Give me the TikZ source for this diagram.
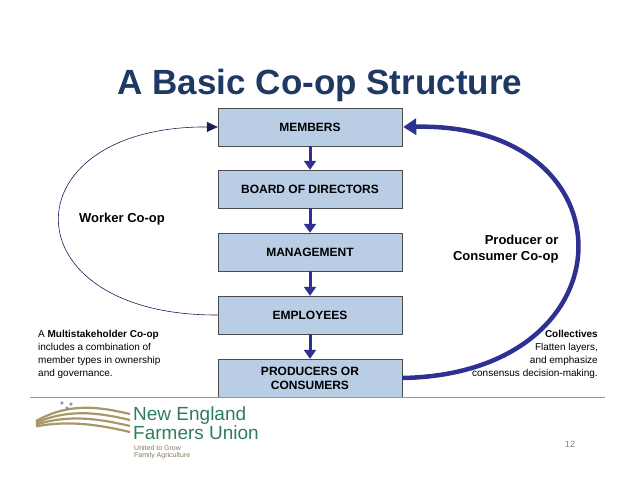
\documentclass[tikz,border=0pt]{standalone}
\usepackage{fontspec}
\setmainfont{Liberation Sans}
\newfontfamily\symfont{DejaVu Sans}
\usetikzlibrary{arrows.meta}
\definecolor{boxfill}{HTML}{B9CDE5}
\definecolor{navy}{HTML}{2E3192}
\definecolor{titleblue}{HTML}{1F3864}
\definecolor{tan}{HTML}{A8976A}
\definecolor{nefgreen}{HTML}{2E7D5B}
\begin{document}
\begin{tikzpicture}[x=1pt,y=-1pt,
  stepbox/.style={draw=black!70,fill=boxfill,minimum width=184pt,minimum height=38pt,inner sep=0pt,font=\bfseries\fontsize{12}{14}\selectfont,align=center},
  down/.style={navy,line width=3pt,-{Triangle[length=9pt,width=12pt]}},
  lbl/.style={font=\fontsize{10}{13}\selectfont,align=left}]
\useasboundingbox (0,0) rectangle (638,493);
\node[font=\bfseries\fontsize{35}{40}\selectfont,text=titleblue] (title) at (320,85) {A Basic Co-op Structure};
\node[stepbox] (mem) at (310,127) {MEMBERS};
\node[stepbox] (bod) at (310,189) {BOARD OF DIRECTORS};
\node[stepbox] (man) at (310,252) {MANAGEMENT};
\node[stepbox] (emp) at (310,315) {EMPLOYEES};
\node[stepbox] (pro) at (310,378) {PRODUCERS OR\\CONSUMERS};
\foreach \a/\b in {mem/bod,bod/man,man/emp,emp/pro} \draw[down] (\a) -- (\b);
\draw[navy!60!black,line width=0.6pt,-{Triangle[length=11pt,width=10pt]}] (emp.west) .. controls (7,316) and (7,126) .. (mem.west);
\draw[navy,line width=4.5pt,-{Triangle[length=13pt,width=16pt]}] (pro.east) .. controls (635,374) and (635,122) .. ([xshift=1pt]mem.east);
\node[font=\bfseries\fontsize{13}{15}\selectfont] (wc) at (122,219) {Worker Co-op};
\node[font=\bfseries\fontsize{13}{16}\selectfont,align=right,anchor=east] (pc) at (562,249) {Producer or\\Consumer Co-op};
\node[lbl,anchor=north west,inner sep=0pt] (ms) at (38,330) {A \textbf{Multistakeholder Co-op}\\includes a combination of\\member types in ownership\\and governance.};
\node[lbl,align=right,anchor=north east,inner sep=0pt] (col) at (598,330) {\textbf{Collectives}\\Flatten layers,\\and emphasize\\consensus decision-making.};
\draw[tan,line width=0.8pt] (30,397) -- (605,397);
% logo
\foreach \d in {0,6,12,18} \draw[tan,line width=2.2pt] (36,421+\d*0.3) .. controls (70,402+\d) and (100,407+\d) .. (130,414+\d);
\foreach \p in {(62,403),(67,408),(71,404)} \node[navy!60,font=\symfont\fontsize{6}{6}\selectfont,inner sep=0pt] at \p {★};
\node[text=nefgreen,font=\fontsize{19}{15}\selectfont,align=left,anchor=west,inner sep=0pt] (nef) at (133,423) {New England\\Farmers Union};
\node[text=tan!80!black,font=\scshape\fontsize{7}{7}\selectfont,align=left,anchor=west,inner sep=0pt] (tag) at (134,452) {United to Grow\\Family Agriculture};
\node[text=gray,font=\fontsize{9}{9}\selectfont] (pg) at (570,444) {12};
\end{tikzpicture}
\end{document}
